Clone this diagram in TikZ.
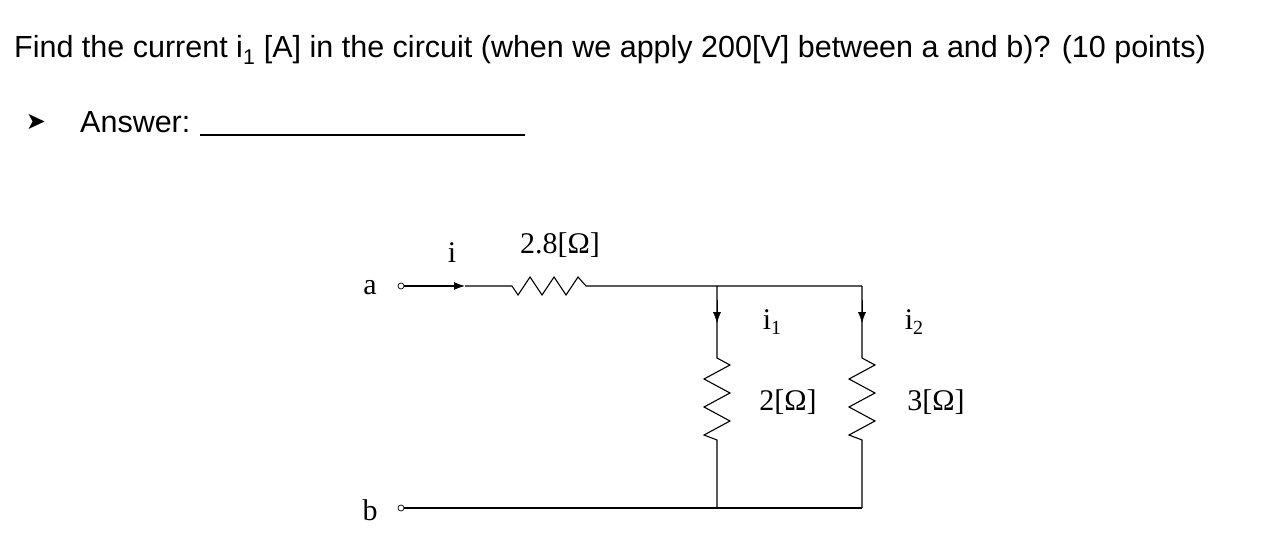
\documentclass[tikz,border=0pt]{standalone}
\usepackage{fontspec}
\setmainfont{Liberation Sans}
\newfontfamily\tms{Liberation Serif}
\newfontfamily\djv{DejaVu Sans}
\usetikzlibrary{arrows.meta}
\begin{document}
\begin{tikzpicture}[x=1pt,y=-1pt,
  wire/.style={line width=1.1pt},
  term/.style={circle,draw,inner sep=0pt,minimum size=6pt,line width=0.7pt},
  lbl/.style={font=\tms\fontsize{30}{32}\selectfont,inner sep=0pt},
  cur/.style={-{Latex[length=11pt,width=8pt]}}]
\useasboundingbox (0,0) rectangle (1280,556);
\node[anchor=west,inner sep=0pt,font=\fontsize{30.5}{33}\selectfont] (title) at (14,50) {Find the current i\textsubscript{1} [A] in the circuit (when we apply 200[V] between a and b)? (10 points)};
\node[inner sep=0pt,font=\djv\fontsize{24}{26}\selectfont] (bul) at (36,122) {➤};
\node[anchor=west,inner sep=0pt,font=\fontsize{30.5}{33}\selectfont] (ans) at (80,122) {Answer:};
\coordinate (l1) at (200,135); \coordinate (l2) at (525,135);
\draw[line width=1.2pt] (l1) -- (l2);
% terminals
\node[term] (a) at (401,286) {};
\node[term] (b) at (401,508) {};
\node[lbl] (la) at (370,288) {a};
\node[lbl] (lb) at (370,510) {b};
\coordinate (ar) at (465,286);
\coordinate (r1s) at (512,286); \coordinate (r1e) at (586,286);
\coordinate (n1) at (717,286); \coordinate (n2) at (862,286);
\coordinate (m2) at (862,508);
\coordinate (b1) at (717,508);
\draw[wire,cur] (a) -- (ar);
\draw[wire] (ar) -- (r1s) -- ++(6,9) -- ++(12,-18) -- ++(12,18) -- ++(12,-18) -- ++(12,18) -- ++(12,-18) -- (r1e) -- (n2);
\draw[wire] (n1) -- (717,358) -- ++(13,7) -- ++(-26,14) -- ++(26,14) -- ++(-26,14) -- ++(26,14) -- ++(-26,14) -- (717,440) -- (b1);
\draw[wire] (n2) -- (862,358) -- ++(13,7) -- ++(-26,14) -- ++(26,14) -- ++(-26,14) -- ++(26,14) -- ++(-26,14) -- (862,440) -- (m2);
\draw[wire] (b) -- (m2);
\draw[cur] (717,300) -- (717,323);
\draw[cur] (862,300) -- (862,323);
\node[lbl] (li) at (452,253) {i};
\node[lbl] (lr1) at (560,245) {2.8[Ω]};
\node[lbl] (li1) at (772,322) {i\raisebox{-5pt}{\fontsize{20}{22}\selectfont 1}};
\node[lbl] (li2) at (914,322) {i\raisebox{-5pt}{\fontsize{20}{22}\selectfont 2}};
\node[lbl] (lr2) at (788,402) {2[Ω]};
\node[lbl] (lr3) at (936,402) {3[Ω]};
\end{tikzpicture}
\end{document}
